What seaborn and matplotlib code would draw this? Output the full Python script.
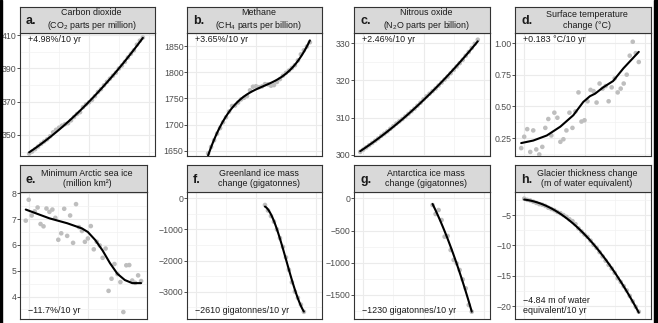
import numpy as np
import pandas as pd
import matplotlib
matplotlib.use("Agg")
import matplotlib.pyplot as plt
import seaborn as sns

sns.set_theme(style="white")
plt.rcParams['font.family'] = ['Liberation Sans', 'DejaVu Sans']
plt.rcParams['mathtext.fontset'] = 'custom'
plt.rcParams['mathtext.rm'] = 'Liberation Sans'
plt.rcParams['mathtext.it'] = 'Liberation Sans:italic'
plt.rcParams['mathtext.default'] = 'regular'

# ---------------- data ----------------
co2_years = list(range(1980, 2019))
co2_vals = [338.8, 340.1, 341.5, 343.1, 344.7, 346.1, 347.4, 349.2, 351.6, 353.1,
            354.4, 355.6, 356.5, 357.1, 358.8, 360.8, 362.6, 363.7, 366.7, 368.4,
            369.6, 371.1, 373.3, 375.8, 377.5, 379.8, 381.9, 383.8, 385.6, 387.4,
            389.9, 391.7, 393.9, 396.5, 398.7, 400.8, 404.2, 406.6, 408.5]

ch4_years = list(range(1984, 2019))
ch4_vals = [1644.8, 1657.3, 1670.1, 1682.7, 1693.3, 1704.5, 1714.0, 1724.8, 1735.5, 1736.5,
            1742.1, 1748.1, 1751.3, 1754.6, 1765.5, 1772.4, 1773.3, 1771.5, 1772.9, 1777.3,
            1777.0, 1774.2, 1775.5, 1781.4, 1787.0, 1793.5, 1798.9, 1803.2, 1808.2, 1813.4,
            1822.6, 1834.2, 1841.9, 1849.1, 1857.3]

n2o_years = list(range(1979, 2019))
n2o_vals = [300.8, 301.4, 302.0, 302.6, 303.2, 303.8, 304.4, 305.1, 305.7, 306.3,
            307.0, 307.7, 308.4, 309.0, 309.6, 310.3, 311.0, 311.7, 312.4, 313.2,
            314.0, 314.9, 315.7, 316.4, 317.1, 317.8, 318.6, 319.4, 320.2, 321.0,
            321.9, 322.8, 323.7, 324.6, 325.5, 326.6, 327.6, 328.7, 329.8, 330.9]

temp_years = list(range(1979, 2019))
temp_vals = [0.17, 0.26, 0.32, 0.14, 0.31, 0.16, 0.12, 0.18, 0.33, 0.40,
             0.27, 0.45, 0.41, 0.22, 0.24, 0.31, 0.45, 0.33, 0.46, 0.61,
             0.38, 0.39, 0.54, 0.63, 0.62, 0.53, 0.68, 0.64, 0.66, 0.54,
             0.65, 0.72, 0.61, 0.64, 0.68, 0.75, 0.90, 1.01, 0.92, 0.85]
# smoothed trend
temp_trend_years = [1979, 1983, 1987.5, 1992, 1996.3, 1999.6, 2001.8, 2003.5, 2006.2, 2009.5, 2012.9, 2018]
temp_trend_vals = [0.21, 0.23, 0.27, 0.34, 0.43, 0.535, 0.58, 0.60, 0.65, 0.70, 0.80, 0.93]

ice_years = list(range(1979, 2019))
ice_vals = [6.94, 7.75, 7.14, 7.30, 7.45, 6.81, 6.72, 7.41, 7.28, 7.37,
            7.05, 6.20, 6.45, 7.40, 6.35, 7.14, 6.08, 7.58, 6.69, 6.54,
            6.12, 6.25, 6.73, 5.83, 6.12, 5.98, 5.50, 5.86, 4.22, 4.69,
            5.26, 4.87, 4.56, 3.40, 5.21, 5.22, 4.62, 4.53, 4.82, 4.60]
ice_trend_years = [1979, 1987, 1993, 1998, 2000, 2002.5, 2005, 2007.5, 2010, 2012.5, 2015, 2018]
ice_trend_vals = [7.37, 7.03, 6.84, 6.64, 6.50, 6.19, 5.78, 5.29, 4.88, 4.64, 4.52, 4.52]

grl_years = list(range(2003, 2017))
grl_vals = [-215, -390, -570, -750, -1000, -1280, -1560, -1900, -2300, -2700,
            -3000, -3200, -3420, -3650]

ant_years = list(range(2003, 2017))
ant_vals = [-104, -244, -182, -337, -596, -585, -803, -958, -1010, -1113,
            -1260, -1398, -1657, -1761]

gla_years = list(range(1980, 2019))
gla_vals = [-2.3, -2.5, -2.6, -2.8, -3.0, -3.2, -3.3, -3.5, -3.8, -4.0,
            -4.2, -4.5, -4.7, -5.0, -5.3, -5.7, -6.0, -6.5, -7.2, -7.7,
            -8.2, -8.6, -9.2, -9.9, -10.4, -11.1, -11.8, -12.5, -13.2, -13.8,
            -14.5, -15.4, -16.0, -16.7, -17.4, -18.3, -19.2, -20.1, -20.9]

letters = ["a.", "b.", "c.", "d.", "e.", "f.", "g.", "h."]
titles = ["Carbon dioxide\n(CO$_2$ parts per million)",
          "Methane\n(CH$_4$ parts per billion)",
          "Nitrous oxide\n(N$_2$O parts per billion)",
          "Surface temperature\nchange (°C)",
          "Minimum Arctic sea ice\n(million km²)",
          "Greenland ice mass\nchange (gigatonnes)",
          "Antarctica ice mass\nchange (gigatonnes)",
          "Glacier thickness change\n(m of water equivalent)"]
notes = ["+4.98%/10 yr", "+3.65%/10 yr", "+2.46%/10 yr", "+0.183 °C/10 yr",
         "\u221211.7%/10 yr", "\u22122610 gigatonnes/10 yr", "\u22121230 gigatonnes/10 yr",
         "\u22124.84 m of water\nequivalent/10 yr"]
yticks = [[350, 370, 390, 410], [1650, 1700, 1750, 1800, 1850], [300, 310, 320, 330],
          [0.25, 0.50, 0.75, 1.00], [4, 5, 6, 7, 8], [0, -1000, -2000, -3000],
          [0, -500, -1000, -1500], [-5, -10, -15, -20]]
ytick_labels = [["350", "370", "390", "410"], ["1650", "1700", "1750", "1800", "1850"],
                ["300", "310", "320", "330"], ["0.25", "0.50", "0.75", "1.00"],
                ["4", "5", "6", "7", "8"], ["0", "\u22121000", "\u22122000", "\u22123000"],
                ["0", "\u2212500", "\u22121000", "\u22121500"],
                ["\u22125", "\u221210", "\u221215", "\u221220"]]
ylims = [(337.4, 411.2), (1640, 1875), (299.7, 332.7), (0.108, 1.079),
         (3.13, 8.05), (-3881, 203), (-1874, 98), (-22.1, -1.21)]
fit_order = [2, 3, 2, None, None, 3, 2, 2]
trends = {3: (temp_trend_years, temp_trend_vals), 4: (ice_trend_years, ice_trend_vals)}

series = [(co2_years, co2_vals), (ch4_years, ch4_vals), (n2o_years, n2o_vals),
          (temp_years, temp_vals), (ice_years, ice_vals), (grl_years, grl_vals),
          (ant_years, ant_vals), (gla_years, gla_vals)]

# ---------------- layout (pixels) ----------------
W, H = 658, 323
fig = plt.figure(figsize=(W / 100, H / 100), dpi=100)
fig.patch.set_facecolor("white")

cols = [(20, 155), (187, 322), (354, 490), (515, 651)]
cols2 = [(20, 147), (187, 322), (354, 490), (515, 651)]
rows = [(7, 33, 156), (165, 192, 319)]

def px_rect(x0, x1, y0, y1):
    return [x0 / W, 1 - y1 / H, (x1 - x0) / W, (y1 - y0) / H]

XLIM = (1976.95, 2022.05)
XLIM_E = (1977.05, 2019.95)
border = "#333333"

for i in range(8):
    r, c = divmod(i, 4)
    x0, x1 = (cols if r == 0 else cols2)[c]
    st, pt, pb = rows[r]
    ax = fig.add_axes(px_rect(x0, x1, pt, pb))
    sx = fig.add_axes(px_rect(x0, x1, st, pt))

    yrs, vals = series[i]
    df = pd.DataFrame({"year": yrs, "value": vals})
    sns.scatterplot(data=df, x="year", y="value", ax=ax, color="#BEBEBE", s=11,
                    edgecolor="none", zorder=3)
    if fit_order[i] is not None:
        sns.regplot(data=df, x="year", y="value", ax=ax, order=fit_order[i], scatter=False,
                    ci=None, truncate=True, color="black", line_kws=dict(lw=1.5, zorder=4))
    else:
        ty, tv = trends[i]
        tdf = pd.DataFrame({"year": ty, "value": tv})
        sns.lineplot(data=tdf, x="year", y="value", ax=ax, color="black", lw=1.5, zorder=4)

    ax.set_xlim(*(XLIM_E if i == 4 else XLIM))
    ax.set_ylim(*ylims[i])
    ax.set_xlabel("")
    ax.set_ylabel("")
    ax.set_facecolor("white")
    ax.set_xticks([1980, 2000, 2020])
    ax.set_xticks([1990, 2010], minor=True)
    yt = yticks[i]
    ax.set_yticks(yt)
    step = abs(yt[1] - yt[0])
    lo, hi = ylims[i]
    mins = np.arange(min(yt) - step / 2, max(yt) + step, step)
    ax.set_yticks([m for m in mins if lo < m < hi], minor=True)
    ax.set_yticklabels(ytick_labels[i])
    ax.grid(which="major", color="#EBEBEB", lw=0.8)
    ax.grid(which="minor", color="#F2F2F2", lw=0.5)
    ax.set_axisbelow(True)
    ax.tick_params(axis="x", which="both", bottom=False, labelbottom=False)
    ax.tick_params(axis="y", which="major", left=True, length=2.0, width=0.6,
                   color="#333333", labelsize=6.3, labelcolor="#4D4D4D", pad=0.5)
    ax.tick_params(axis="y", which="minor", left=False)
    for s in ax.spines.values():
        s.set_edgecolor(border)
        s.set_linewidth(0.8)

    if r == 0:
        ax.text(0.06, 0.985, notes[i], transform=ax.transAxes, ha="left", va="top",
                fontsize=6.4, color="#1A1A1A")
    else:
        ax.text(0.06, 0.03, notes[i], transform=ax.transAxes, ha="left", va="bottom",
                fontsize=6.4, color="#1A1A1A", linespacing=1.1)

    sx.set_facecolor("#D9D9D9")
    sx.set_xticks([])
    sx.set_yticks([])
    for s in sx.spines.values():
        s.set_edgecolor(border)
        s.set_linewidth(0.8)
    sx.text(0.53, 0.5, titles[i], transform=sx.transAxes, ha="center", va="center",
            fontsize=6.4, color="#1A1A1A", linespacing=1.2)
    sx.text(0.045, 0.45, letters[i], transform=sx.transAxes, ha="left", va="center",
            fontsize=9, fontweight="bold", color="#1A1A1A")

fig.patches.append(plt.Rectangle((0, 0), 2 / W, 1, transform=fig.transFigure,
                                 color="black", zorder=10))
fig.patches.append(plt.Rectangle((1 - 4 / W, 0), 4 / W, 1, transform=fig.transFigure,
                                 color="black", zorder=10))

fig.savefig("out.png", dpi=100)
